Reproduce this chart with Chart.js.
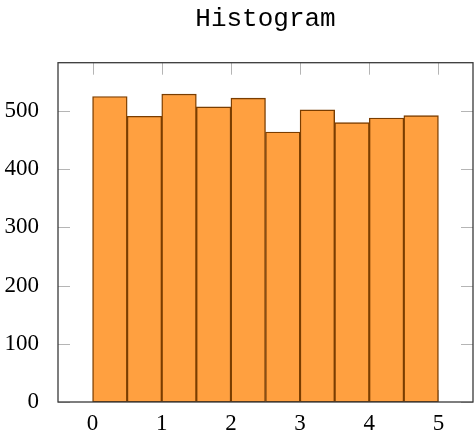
<!DOCTYPE html>
<html>
<head>
<meta charset="utf-8">
<script src="https://cdn.jsdelivr.net/npm/chart.js@4.4.1/dist/chart.umd.min.js"></script>
<style>
    html, body { margin: 0; padding: 0; background: #fff; }
    #wrap { position: relative; width: 474px; height: 438px; }
</style>
</head>
<body>
<div id="wrap"><canvas id="chartHistogram"></canvas></div>
<script>
const binCenters = [0.25, 0.75, 1.25, 1.75, 2.25, 2.75, 3.25, 3.75, 4.25, 4.75];
const binCounts = [525, 491, 529, 507, 522, 464, 502, 480, 488, 492];
const xTickValues = [0, 1, 2, 3, 4, 5];
const yTickValues = [0, 100, 200, 300, 400, 500];

// pgfplots style: small gray ticks inside the box, then a dark frame on top
const pgfFrame = {
    id: 'pgfFrame',
    beforeDatasetsDraw(chart) {
        const { ctx, chartArea: a, scales } = chart;
        const len = 12;
        ctx.save();
        ctx.strokeStyle = '#b5b5b5';
        ctx.lineWidth = 1;
        ctx.beginPath();
        xTickValues.forEach(v => {
            const px = Math.round(scales.x.getPixelForValue(v)) + 0.5;
            ctx.moveTo(px, a.top); ctx.lineTo(px, a.top + len);
            ctx.moveTo(px, a.bottom); ctx.lineTo(px, a.bottom - len);
        });
        yTickValues.forEach(v => {
            const py = Math.round(scales.y.getPixelForValue(v)) + 0.5;
            ctx.moveTo(a.left, py); ctx.lineTo(a.left + len, py);
            ctx.moveTo(a.right, py); ctx.lineTo(a.right - len, py);
        });
        ctx.stroke();
        ctx.restore();
    },
    afterDatasetsDraw(chart) {
        const { ctx, chartArea: a } = chart;
        ctx.save();
        ctx.strokeStyle = '#3a3a3a';
        ctx.lineWidth = 1.3;
        ctx.strokeRect(a.left, a.top, a.right - a.left, a.bottom - a.top);
        ctx.restore();
    }
};

new Chart(document.getElementById('chartHistogram'), {
    type: 'bar',
    data: {
        datasets: [{
            data: binCenters.map((x, i) => ({ x: x, y: binCounts[i] })),
            backgroundColor: '#ffa040',
            borderColor: '#7a3d00',
            borderWidth: 1.4,
            borderSkipped: false,
            barPercentage: 1,
            categoryPercentage: 1
        }]
    },
    options: {
        responsive: true,
        maintainAspectRatio: false,
        animation: false,
        layout: {
            padding: { left: 0, right: 1, top: 4, bottom: 0 }
        },
        plugins: {
            legend: { display: false },
            tooltip: { enabled: false },
            title: {
                display: true,
                text: 'Histogram',
                fullSize: false,
                color: '#000',
                font: { family: '"Liberation Mono", monospace', size: 26, weight: 'normal', lineHeight: 1.2 },
                padding: { top: 0, bottom: 27.5 }
            }
        },
        scales: {
            x: {
                type: 'linear',
                min: -0.5,
                max: 5.5,
                offset: false,
                grid: { display: false, offset: false },
                border: { display: false },
                afterBuildTicks: scale => { scale.ticks = xTickValues.map(v => ({ value: v })); },
                afterFit: scale => { scale.height = 36; },
                ticks: {
                    color: '#000',
                    padding: 0,
                    maxRotation: 0,
                    font: { family: '"Liberation Serif", serif', size: 23 }
                }
            },
            y: {
                min: 0,
                max: 583,
                grid: { display: false },
                border: { display: false },
                afterBuildTicks: scale => { scale.ticks = yTickValues.map(v => ({ value: v })); },
                afterFit: scale => { scale.width = 58; },
                ticks: {
                    color: '#000',
                    padding: 11,
                    font: { family: '"Liberation Serif", serif', size: 23 }
                }
            }
        }
    },
    plugins: [pgfFrame]
});
</script>
</body>
</html>
